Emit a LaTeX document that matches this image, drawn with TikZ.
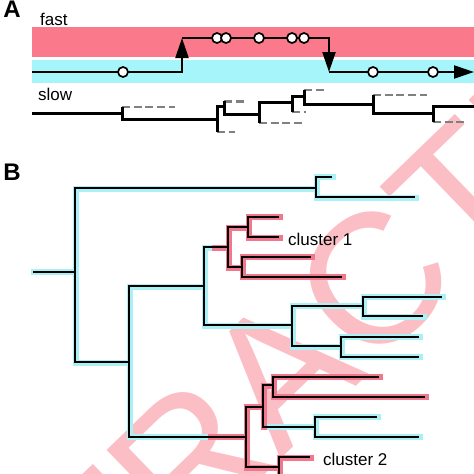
\documentclass[tikz,border=0pt]{standalone}
\usepackage{fontspec}
\setmainfont{Liberation Sans}
\usetikzlibrary{arrows.meta}
\definecolor{fastband}{RGB}{250,122,140}
\definecolor{slowband}{RGB}{165,245,250}
\definecolor{cyanglow}{RGB}{170,240,245}
\definecolor{pinkglow}{RGB}{240,120,140}
\definecolor{stampred}{RGB}{250,190,196}

\begin{document}
\begin{tikzpicture}[x=1pt,y=-1pt,
    lineage/.style={line width=2.3pt},
    jump/.style={lineage,-{Triangle[length=20pt,width=13pt]}},
    mutation/.style={circle,draw,fill=white,line width=1.7pt,minimum size=10pt,inner sep=0pt},
    slowbranch/.style={line width=3pt},
    ghost/.style={line width=2.4pt,gray,dash pattern=on 8pt off 3.7pt},
    glow/.style={line width=6pt,line cap=rect,transform canvas={xshift=0.7pt,yshift=-0.7pt}},
    branch/.style={line width=2pt},
    txt/.style={font=\fontsize{17}{20}\selectfont,inner sep=0pt},
    panel/.style={font=\fontsize{24}{24}\selectfont\bfseries,inner sep=0pt}]
    \useasboundingbox (0,0) rectangle (474,474);
    \clip (0,0) rectangle (474,474);

    % bands
    \fill[fastband] (32,27) rectangle (474,57);
    \fill[slowband] (32,60) rectangle (474,83);

    % stamp
    \node[rotate=44, text=stampred, font=\fontsize{185}{185}\selectfont, inner sep=0pt] (stamp) at (281,371) {RETRACTED};

    % labels
    \node[panel, anchor=base east] (lblA) at (21,17) {A};
    \node[panel, anchor=base east] (lblB) at (21,180.5) {B};
    \node[txt, anchor=base west] (fast) at (40,25) {fast};
    \node[txt, anchor=base west] (slow) at (38,100) {slow};

    % switching lineage
    \coordinate (t0) at (32,72);
    \coordinate (t1) at (182,72);
    \coordinate (t2) at (182,38);
    \coordinate (t3) at (329,38);
    \coordinate (t4) at (329,72);
    \coordinate (t5) at (474,72);
    \draw[jump] (t0) -- (t1) -- (t2);
    \draw[jump] (t2) -- (t3) -- (t4);
    \draw[jump] (t4) -- (t5);
    \foreach \x [count=\i] in {123,373,433}
        \node[mutation] (mlow\i) at (\x,72) {};
    \foreach \x [count=\i] in {217,226,259,292,304}
        \node[mutation] (mup\i) at (\x,38) {};

    % slow lineage
    \coordinate (q0) at (32,113.3);
    \coordinate (n1) at (122,113.3);
    \coordinate (n2) at (217,119.3);
    \coordinate (n3) at (224,106);
    \coordinate (n4) at (259,114);
    \coordinate (n5) at (292,102);
    \coordinate (n6) at (304,96);
    \coordinate (n7) at (373,104);
    \coordinate (n8) at (433,113);
    \coordinate (q9) at (474,106.7);
    % dead side branches
    \coordinate (g1) at (175,107);
    \coordinate (g2) at (235,131.7);
    \coordinate (g3) at (245,101.3);
    \coordinate (g4) at (302,122.7);
    \coordinate (g5) at (306,111.7);
    \coordinate (g6) at (324,90);
    \coordinate (g7) at (427,95);
    \coordinate (g8) at (465,121.7);
    \foreach \i in {1,...,8} {
        \draw[ghost] (n\i |- g\i) -- (g\i);
        \draw[slowbranch] (n\i) -- (n\i |- g\i);
    }
    \draw[slowbranch] (q0) -- (n1) |- (n2) |- (n3) |- (n4) |- (n5) |- (n6) |- (n7) |- (n8) |- (q9);

    % tree
    \coordinate (s) at (33,271.7);
    \coordinate (r) at (75,271.7);
    \coordinate (a) at (316,188.3);
    \coordinate (a1) at (332,176.7);
    \coordinate (a2) at (415,197.3);
    \coordinate (b) at (129,362);
    \coordinate (c) at (204,286);
    \coordinate (k1in) at (214,247);
    \coordinate (k1) at (228,247);
    \coordinate (k1a) at (248,227);
    \coordinate (k1a1) at (279,216.7);
    \coordinate (k1a2) at (279,237.3);
    \coordinate (k1b) at (242,267);
    \coordinate (k1b1) at (311,256.7);
    \coordinate (k1b2) at (342,276.7);
    \coordinate (d) at (292,325);
    \coordinate (d1) at (363,305.7);
    \coordinate (d11) at (442,296.7);
    \coordinate (d12) at (423,316);
    \coordinate (d2) at (341,346);
    \coordinate (d21) at (419,336.7);
    \coordinate (d22) at (419,356.7);
    \coordinate (k2in) at (210,436.7);
    \coordinate (k2) at (246,436.7);
    \coordinate (e) at (263,406.7);
    \coordinate (e1) at (273,385);
    \coordinate (e11) at (379,376.7);
    \coordinate (e12) at (425,396.7);
    \coordinate (e2) at (315,426.7);
    \coordinate (e21) at (377,416.7);
    \coordinate (e22) at (419,436.7);
    \coordinate (f) at (279,467.3);
    \coordinate (f1) at (310,457);
    \coordinate (f2) at (333,478);

    % slow background
    \foreach \p/\c in {s/r,r/a,a/a1,a/a2,r/b,b/c,c/d,d/d1,d1/d11,d1/d12,d/d2,d2/d21,d2/d22,c/k1,b/k2,e/e2,e2/e21,e2/e22}
        \draw[glow,cyanglow] (\p) |- (\c);
    % fast clusters
    \foreach \p/\c in {k1/k1a,k1a/k1a1,k1a/k1a2,k1/k1b,k1b/k1b1,k1b/k1b2,k2/e,e/e1,e1/e11,e1/e12,k2/f,f/f1,f/f2}
        \draw[glow,pinkglow] (\p) |- (\c);
    \draw[glow,pinkglow] (k1in) -- (k1);
    \draw[glow,pinkglow] (k2in) -- (k2);
    \draw[glow,pinkglow] (e) -- (e |- e2);

    % branches
    \foreach \p/\c in {s/r,r/a,a/a1,a/a2,r/b,b/c,c/d,d/d1,d1/d11,d1/d12,d/d2,d2/d21,d2/d22,c/k1,b/k2,e/e2,e2/e21,e2/e22,
                       k1/k1a,k1a/k1a1,k1a/k1a2,k1/k1b,k1b/k1b1,k1b/k1b2,k2/e,e/e1,e1/e11,e1/e12,k2/f,f/f1,f/f2}
        \draw[branch] (\p) |- (\c);

    \node[txt, anchor=base west] (clus1) at (288,245) {cluster 1};
    \node[txt, anchor=base west] (clus2) at (323,465) {cluster 2};
\end{tikzpicture}
\end{document}
